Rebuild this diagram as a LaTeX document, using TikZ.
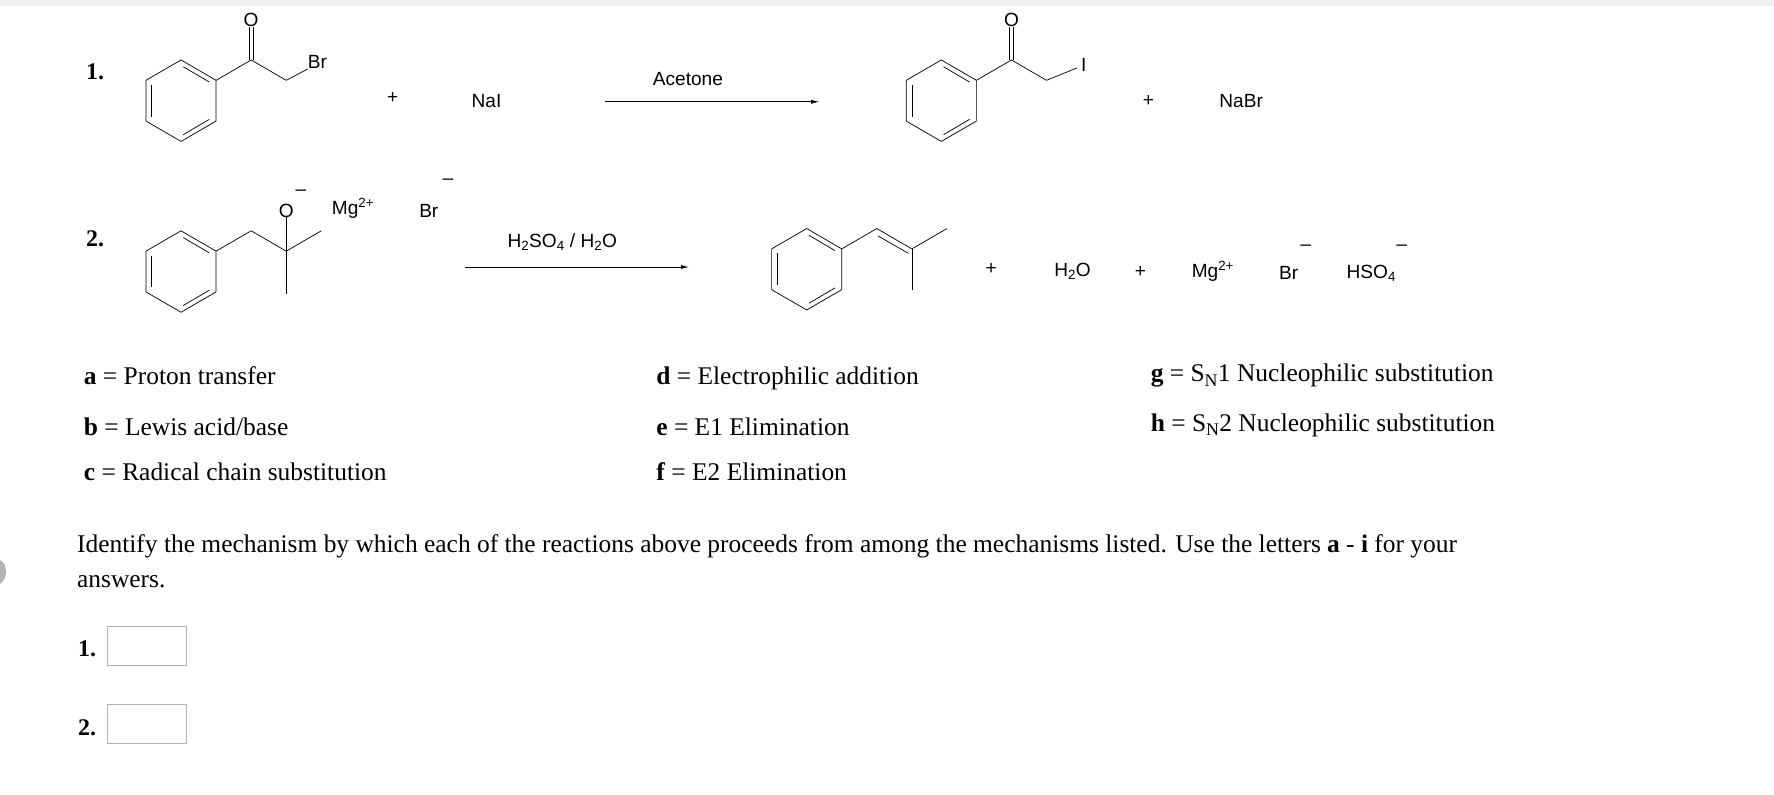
\documentclass[tikz,border=0pt]{standalone}
\usepackage{fontspec}
\setmainfont{Liberation Serif}
\newfontfamily\chem{Liberation Sans}
\usetikzlibrary{arrows.meta}
\begin{document}
\begin{tikzpicture}[x=0.05cm,y=-0.05cm,
  bond/.style={line width=0.9pt,line join=round},
  lab/.style={font=\chem\fontsize{24pt}{26pt}\selectfont,inner sep=0pt},
  body/.style={font=\fontsize{32pt}{36pt}\selectfont,anchor=base west,inner sep=0pt},
  rxn/.style={line width=0.9pt,-{Latex[length=10pt,width=5pt]}},
  ansbox/.style={draw=gray!60,line width=1pt}]
\useasboundingbox (0,0) rectangle (1568,702);
\fill[gray!12] (0,0) rectangle (1568,5);
\fill[gray!70] (0,497) arc (-90:90:-1) -- cycle;
\fill[gray!60] (0,495) .. controls (7,498) and (7,512) .. (0,516) -- cycle;
% benzene macro: center cx,cy
\newcommand{\benz}[3]{%
  \draw[bond] (#1,#2-36)--(#1+31,#2-18)--(#1+31,#2+18)--(#1,#2+36)--(#1-31,#2+18)--(#1-31,#2-18)--cycle;
  \draw[bond] (#1+2,#2-30)--(#1+25,#2-16.5);
  \draw[bond] (#1+25,#2+16.5)--(#1+2,#2+30);
  \draw[bond] (#1-26,#2-14)--(#1-26,#2+14);
  \coordinate (#3) at (#1+31,#2-18);}
% ---------- reaction 1
\node[body,font=\bfseries\fontsize{30pt}{34pt}\selectfont] (n1) at (76,70) {1.};
\benz{160}{89}{r1}
\coordinate (c1) at (222,53); \coordinate (m1) at (253,71);
\node[lab] (o1) at (222,18) {O};
\node[lab,anchor=west] (br1) at (272,55) {Br};
\draw[bond] (r1)--(c1)--(m1)--(br1.south west);
\draw[bond] ([xshift=-2.5pt]c1)--([xshift=-2.5pt]o1.south);
\draw[bond] ([xshift=2.5pt]c1)--([xshift=2.5pt]o1.south);
\node[lab] (p1) at (347,87) {+};
\node[lab] (nai) at (430,89) {NaI};
\coordinate (a1s) at (535,90); \coordinate (a1e) at (724,90);
\draw[rxn] (a1s)--(a1e);
\node[lab] (ac) at (608,70) {Acetone};
\benz{832}{89}{r2}
\coordinate (c2) at (894,53); \coordinate (m2) at (925,71);
\node[lab] (o2) at (894,18) {O};
\node[lab] (i2) at (958,57) {I};
\draw[bond] (r2)--(c2)--(m2)--(952,60);
\draw[bond] ([xshift=-2.5pt]c2)--([xshift=-2.5pt]o2.south);
\draw[bond] ([xshift=2.5pt]c2)--([xshift=2.5pt]o2.south);
\node[lab] (p2) at (1015,89) {+};
\node[lab] (nabr) at (1097,89) {NaBr};
% ---------- reaction 2
\node[body,font=\bfseries\fontsize{30pt}{34pt}\selectfont] (n2) at (76,218) {2.};
\benz{160}{240}{r3}
\coordinate (c3) at (222,204); \coordinate (q3) at (253,222);
\node[lab] (o3) at (253,186) {O};
\node[lab] (om) at (266,170) {\textendash};
\draw[bond] (r3)--(c3)--(q3)--(284,204);
\draw[bond] (q3)--(253,260);
\draw[bond] (q3)--(o3.south);
\node[lab] (mg1) at (312,184) {Mg\textsuperscript{2+}};
\node[lab] (br3) at (379,186) {Br};
\node[lab] (brm) at (396,161) {\textendash};
\coordinate (a2s) at (411,236); \coordinate (a2e) at (609,236);
\draw[rxn] (a2s)--(a2e);
\node[lab] (cond) at (497,214) {H\textsubscript{2}SO\textsubscript{4} / H\textsubscript{2}O};
\benz{713}{238}{r4}
\coordinate (c4) at (775,202); \coordinate (q4) at (806,220);
\draw[bond] (r4)--(c4)--(q4)--(837,202);
\draw[bond] (776,208.5)--(803,224);
\draw[bond] (q4)--(806,256);
\node[lab] (p3) at (876,238) {+};
\node[lab] (h2o) at (948,240) {H\textsubscript{2}O};
\node[lab] (p4) at (1008,240) {+};
\node[lab] (mg2) at (1072,240) {Mg\textsuperscript{2+}};
\node[lab] (br4) at (1139,241) {Br};
\node[lab] (brm4) at (1154,219) {\textendash};
\node[lab] (hso) at (1212,242) {HSO\textsubscript{4}};
\node[lab] (hsom) at (1239,219) {\textendash};
% ---------- legend
\node[body] (la) at (74,340) {\textbf{a} = Proton transfer};
\node[body] (lb) at (74,385) {\textbf{b} = Lewis acid/base};
\node[body] (lc) at (74,425) {\textbf{c} = Radical chain substitution};
\node[body] (ld) at (580,340) {\textbf{d} = Electrophilic addition};
\node[body] (le) at (580,385) {\textbf{e} = E1 Elimination};
\node[body] (lf) at (580,425) {\textbf{f} = E2 Elimination};
\node[body] (lg) at (1017,337) {\textbf{g} = S\textsubscript{N}1 Nucleophilic substitution};
\node[body] (lh) at (1017,381) {\textbf{h} = S\textsubscript{N}2 Nucleophilic substitution};
\node[body] (q1) at (68,488) {Identify the mechanism by which each of the reactions above proceeds from among the mechanisms listed. Use the letters \textbf{a} - \textbf{i} for your};
\node[body] (q2) at (68,519) {answers.};
\node[body,font=\bfseries\fontsize{30pt}{34pt}\selectfont] (an1) at (69,580) {1.};
\draw[ansbox] (95,554) rectangle (165,588);
\node[body,font=\bfseries\fontsize{30pt}{34pt}\selectfont] (an2) at (69,650) {2.};
\draw[ansbox] (95,623) rectangle (165,657);
\end{tikzpicture}
\end{document}
